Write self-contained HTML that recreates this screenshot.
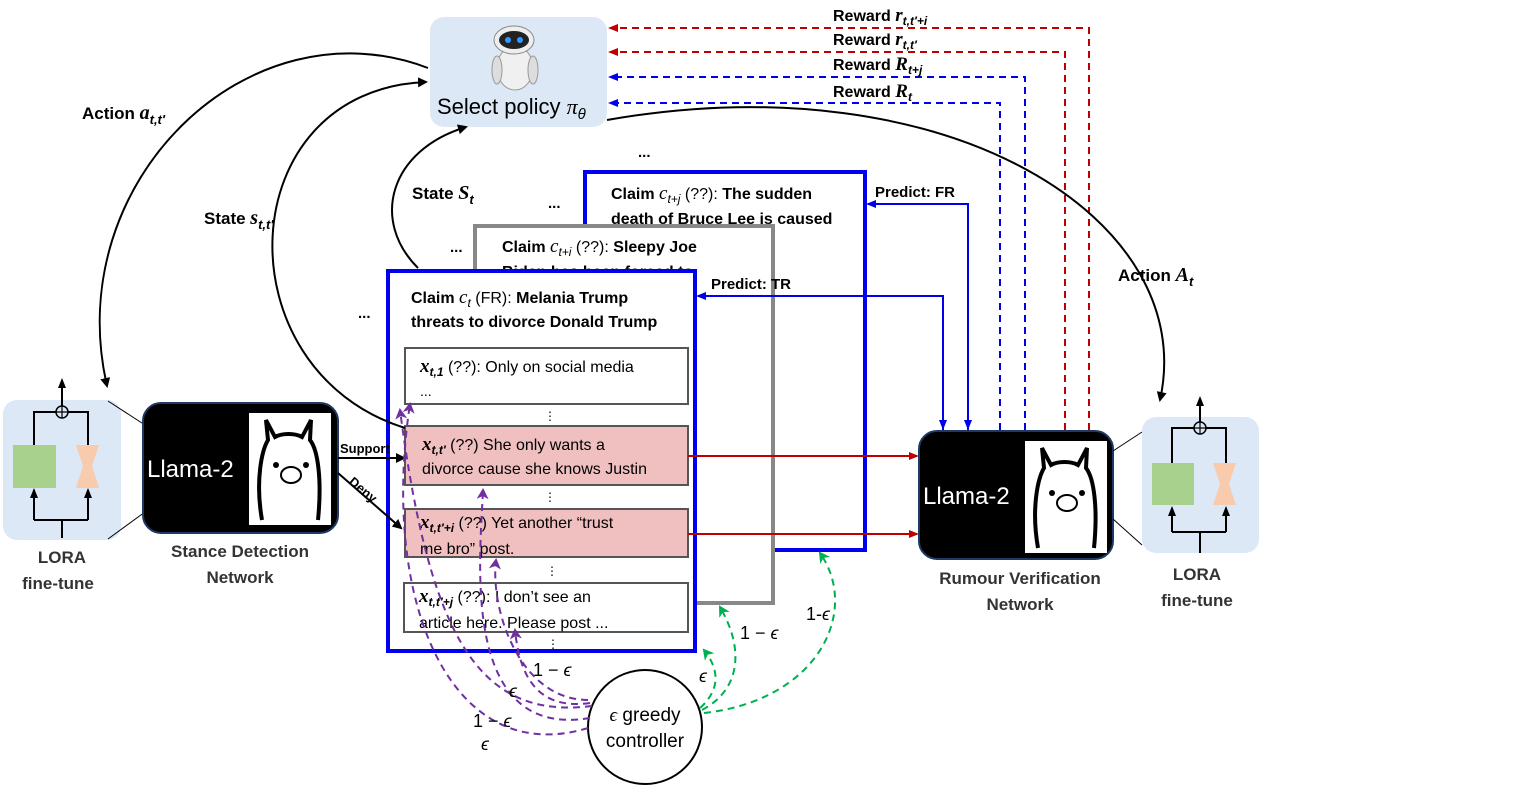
<!DOCTYPE html>
<html><head><meta charset="utf-8"><style>
html,body{margin:0;padding:0;background:#fff}
svg text{font-family:"Liberation Sans",sans-serif}
.b{font-weight:bold}
</style></head><body>
<svg width="1538" height="790" viewBox="0 0 1538 790" xmlns="http://www.w3.org/2000/svg">
<defs>
<marker id="ak" markerWidth="10" markerHeight="10" refX="8" refY="5" orient="auto" markerUnits="userSpaceOnUse"><path d="M0,0 L10,5 L0,10 z" fill="#000"/></marker>
<marker id="ar" markerWidth="10" markerHeight="10" refX="8" refY="5" orient="auto" markerUnits="userSpaceOnUse"><path d="M0,1 L10,5 L0,9 z" fill="#c00000"/></marker>
<marker id="ab" markerWidth="10" markerHeight="10" refX="8" refY="5" orient="auto" markerUnits="userSpaceOnUse"><path d="M0,1 L10,5 L0,9 z" fill="#0000ee"/></marker>
<marker id="ap" markerWidth="12" markerHeight="12" refX="9" refY="6" orient="auto" markerUnits="userSpaceOnUse"><path d="M0,0 L11,6 L0,12 L3,6 z" fill="#7030a0"/></marker>
<marker id="ag" markerWidth="12" markerHeight="12" refX="9" refY="6" orient="auto" markerUnits="userSpaceOnUse"><path d="M0,0 L11,6 L0,12 L3,6 z" fill="#00b050"/></marker>
</defs>

<rect x="430" y="17" width="177" height="110" rx="14" fill="#dce8f5"/>
<ellipse cx="515" cy="68" rx="18" ry="22" fill="#f0f0f0" stroke="#999"/>
<ellipse cx="514" cy="40" rx="20" ry="14" fill="#eee" stroke="#888"/>
<ellipse cx="514" cy="40" rx="15" ry="9" fill="#222"/>
<circle cx="508" cy="40" r="3" fill="#39f"/><circle cx="520" cy="40" r="3" fill="#39f"/>
<ellipse cx="497" cy="70" rx="5" ry="14" fill="#ddd" stroke="#999"/>
<ellipse cx="533" cy="70" rx="5" ry="14" fill="#ddd" stroke="#999"/>
<text x="437" y="114" font-size="22">Select policy <tspan font-style="italic" font-family="Liberation Serif">π</tspan><tspan font-size="15" dy="5" font-style="italic">θ</tspan></text>

<g fill="none" stroke-width="2" stroke-dasharray="7,5">
<path d="M1089,430 V28 H610" stroke="#c00000" marker-end="url(#ar)"/>
<path d="M1065,430 V52 H610" stroke="#c00000" marker-end="url(#ar)"/>
<path d="M1025,430 V77 H610" stroke="#0000ee" marker-end="url(#ab)"/>
<path d="M1000,430 V103 H610" stroke="#0000ee" marker-end="url(#ab)"/>
</g>
<g class="b" font-size="16">
<text x="833" y="21">Reward <tspan font-family="Liberation Serif" font-style="italic" font-size="19">r</tspan><tspan font-size="12" dy="4" font-style="italic">t,t′+i</tspan></text>
<text x="833" y="45">Reward <tspan font-family="Liberation Serif" font-style="italic" font-size="19">r</tspan><tspan font-size="12" dy="4" font-style="italic">t,t′</tspan></text>
<text x="833" y="70">Reward <tspan font-family="Liberation Serif" font-style="italic" font-size="19">R</tspan><tspan font-size="12" dy="4" font-style="italic">t+j</tspan></text>
<text x="833" y="97">Reward <tspan font-family="Liberation Serif" font-style="italic" font-size="19">R</tspan><tspan font-size="12" dy="4" font-style="italic">t</tspan></text>
</g>

<rect x="585" y="172" width="280" height="378" fill="#fff" stroke="#0000ee" stroke-width="4"/>
<text x="611" y="199" font-size="16"><tspan class="b">Claim </tspan><tspan font-family="Liberation Serif" font-style="italic" font-size="19">c</tspan><tspan font-size="12" dy="4" font-style="italic">t+j</tspan><tspan dy="-4"> (??): </tspan><tspan class="b">The sudden</tspan></text>
<text x="611" y="224" font-size="16" class="b">death of Bruce Lee is caused</text>
<rect x="475" y="226" width="298" height="377" fill="#fff" stroke="#888" stroke-width="4"/>
<text x="502" y="252" font-size="16"><tspan class="b">Claim </tspan><tspan font-family="Liberation Serif" font-style="italic" font-size="19">c</tspan><tspan font-size="12" dy="4" font-style="italic">t+i</tspan><tspan dy="-4"> (??): </tspan><tspan class="b">Sleepy Joe</tspan></text>
<text x="502" y="277" font-size="16" class="b">Biden has been forced to</text>
<rect x="388" y="271" width="307" height="380" fill="#fff" stroke="#0000ee" stroke-width="4"/>
<text x="411" y="303" font-size="16"><tspan class="b">Claim </tspan><tspan font-family="Liberation Serif" font-style="italic" font-size="19">c</tspan><tspan font-size="12" dy="4" font-style="italic">t</tspan><tspan dy="-4"> (FR): </tspan><tspan class="b">Melania Trump</tspan></text>
<text x="411" y="327" font-size="16" class="b">threats to divorce Donald Trump</text>

<rect x="405" y="348" width="283" height="56" fill="#fff" stroke="#555" stroke-width="2"/>
<text x="420" y="372" font-size="16"><tspan font-family="Liberation Serif" font-style="italic" font-weight="bold" font-size="19">x</tspan><tspan font-size="12" dy="4" font-style="italic" font-weight="bold">t,1</tspan><tspan dy="-4"> (??): Only on social media</tspan></text>
<text x="420" y="396" font-size="14">...</text>
<text x="544" y="420" font-size="12">⋮</text>
<rect x="405" y="426" width="283" height="59" fill="#f0c0c0" stroke="#555" stroke-width="2"/>
<text x="422" y="450" font-size="16"><tspan font-family="Liberation Serif" font-style="italic" font-weight="bold" font-size="19">x</tspan><tspan font-size="12" dy="4" font-style="italic" font-weight="bold">t,t′</tspan><tspan dy="-4"> (??) She only wants a</tspan></text>
<text x="422" y="474" font-size="16">divorce cause she knows Justin</text>
<text x="544" y="501" font-size="12">⋮</text>
<rect x="405" y="509" width="283" height="48" fill="#f0c0c0" stroke="#555" stroke-width="2"/>
<text x="420" y="528" font-size="16"><tspan font-family="Liberation Serif" font-style="italic" font-weight="bold" font-size="19">x</tspan><tspan font-size="12" dy="4" font-style="italic" font-weight="bold">t,t′+i</tspan><tspan dy="-4"> (??) Yet another “trust</tspan></text>
<text x="420" y="554" font-size="16">me bro” post.</text>
<text x="546" y="575" font-size="12">⋮</text>
<rect x="404" y="583" width="284" height="49" fill="#fff" stroke="#555" stroke-width="2"/>
<text x="419" y="602" font-size="16"><tspan font-family="Liberation Serif" font-style="italic" font-weight="bold" font-size="19">x</tspan><tspan font-size="12" dy="4" font-style="italic" font-weight="bold">t,t′+j</tspan><tspan dy="-4"> (??): I don’t see an</tspan></text>
<text x="419" y="628" font-size="16">article here. Please post  ...</text>
<text x="547" y="648" font-size="12">⋮</text>

<g font-size="15" class="b">
<text x="638" y="157">...</text><text x="548" y="208">...</text><text x="450" y="252">...</text><text x="358" y="318">...</text>
</g>

<path d="M968,430 V204 H868" fill="none" stroke="#0000ee" stroke-width="2" marker-end="url(#ab)"/>
<path d="M943,430 V296 H698" fill="none" stroke="#0000ee" stroke-width="2" marker-end="url(#ab)"/>
<path d="M968,204 V428" fill="none" stroke="#0000ee" stroke-width="2" marker-end="url(#ab)"/>
<path d="M943,296 V428" fill="none" stroke="#0000ee" stroke-width="2" marker-end="url(#ab)"/>
<text x="875" y="197" font-size="15" class="b">Predict: FR</text>
<text x="711" y="289" font-size="15" class="b">Predict: TR</text>

<path d="M688,456 H917" stroke="#c00000" stroke-width="2" marker-end="url(#ar)"/>
<path d="M688,534 H917" stroke="#c00000" stroke-width="2" marker-end="url(#ar)"/>

<rect x="3" y="400" width="118" height="140" rx="14" fill="#dce8f5"/>
<rect x="13" y="445" width="43" height="43" fill="#a9d18e"/>
<path d="M76,445 H99 L92,466 L99,488 H76 L83,466 Z" fill="#f8cbad"/>
<g stroke="#000" stroke-width="2" fill="none">
<path d="M62,538 V520 M34,520 H88 M34,520 V490 M88,520 V490"/>
<path d="M34,445 V412 H56 M88,445 V412 H68"/>
<circle cx="62" cy="412" r="6" stroke-width="1.5"/><path d="M56,412 H68 M62,406 V418" stroke-width="1.2"/>
<path d="M62,406 V384"/>
</g>
<path d="M30,498 L34,488 L38,498 Z M84,498 L88,488 L92,498 Z M58,388 L62,378 L66,388 Z" fill="#000"/>
<text x="62" y="563" font-size="17" class="b" text-anchor="middle" fill="#333">LORA</text>
<text x="58" y="589" font-size="17" class="b" text-anchor="middle" fill="#333">fine-tune</text>
<path d="M108,401 L145,425 M108,539 L145,512" stroke="#000" stroke-width="1"/>

<rect x="143" y="403" width="195" height="130" rx="18" fill="#000" stroke="#1f3864" stroke-width="2"/>
<text x="147" y="477" font-size="24" fill="#fff">Llama-2</text>
<rect x="249" y="413" width="82" height="112" fill="#fff"/>
<g fill="none" stroke="#000" stroke-width="4">
<path d="M262,520 C255,480 262,450 268,440 L266,420 L275,437 C282,433 295,433 302,437 L311,420 L310,440 C318,450 322,480 318,520"/>
</g>
<circle cx="276" cy="465" r="3" fill="#000"/><circle cx="306" cy="465" r="3" fill="#000"/>
<ellipse cx="291" cy="475" rx="10" ry="8" fill="none" stroke="#000" stroke-width="2"/>
<text x="240" y="557" font-size="17" class="b" text-anchor="middle" fill="#333">Stance Detection</text>
<text x="240" y="583" font-size="17" class="b" text-anchor="middle" fill="#333">Network</text>

<rect x="919" y="431" width="194" height="128" rx="18" fill="#000" stroke="#1f3864" stroke-width="2"/>
<text x="923" y="504" font-size="24" fill="#fff">Llama-2</text>
<rect x="1025" y="441" width="82" height="112" fill="#fff"/>
<g fill="none" stroke="#000" stroke-width="4">
<path d="M1038,548 C1031,508 1038,478 1044,468 L1042,448 L1051,465 C1058,461 1071,461 1078,465 L1087,448 L1086,468 C1094,478 1098,508 1094,548"/>
</g>
<circle cx="1052" cy="493" r="3" fill="#000"/><circle cx="1082" cy="493" r="3" fill="#000"/>
<ellipse cx="1067" cy="503" rx="10" ry="8" fill="none" stroke="#000" stroke-width="2"/>
<text x="1020" y="584" font-size="17" class="b" text-anchor="middle" fill="#333">Rumour Verification</text>
<text x="1020" y="610" font-size="17" class="b" text-anchor="middle" fill="#333">Network</text>
<path d="M1113,451 L1142,432 M1113,519 L1142,545" stroke="#000" stroke-width="1"/>
<rect x="1142" y="417" width="117" height="136" rx="14" fill="#dce8f5"/>
<rect x="1152" y="463" width="42" height="42" fill="#a9d18e"/>
<path d="M1213,463 H1236 L1229,484 L1236,505 H1213 L1220,484 Z" fill="#f8cbad"/>
<g stroke="#000" stroke-width="2" fill="none">
<path d="M1200,553 V532 M1172,532 H1226 M1172,532 V508 M1226,532 V508"/>
<path d="M1172,463 V428 H1194 M1226,463 V428 H1206"/>
<circle cx="1200" cy="428" r="6" stroke-width="1.5"/><path d="M1194,428 H1206 M1200,422 V434" stroke-width="1.2"/>
<path d="M1200,422 V402"/>
</g>
<path d="M1168,516 L1172,506 L1176,516 Z M1222,516 L1226,506 L1230,516 Z M1196,406 L1200,396 L1204,406 Z" fill="#000"/>
<text x="1197" y="580" font-size="17" class="b" text-anchor="middle" fill="#333">LORA</text>
<text x="1197" y="606" font-size="17" class="b" text-anchor="middle" fill="#333">fine-tune</text>

<path d="M338,458 H404" stroke="#000" stroke-width="2" marker-end="url(#ak)"/>
<path d="M338,473 L401,528" stroke="#000" stroke-width="2" marker-end="url(#ak)"/>
<text x="340" y="453" font-size="13" class="b">Support</text>
<text x="348" y="483" font-size="13" class="b" transform="rotate(40 348 483)">Deny</text>

<g fill="none" stroke="#000" stroke-width="2">
<path d="M428,68 C250,0 60,180 107,386" marker-end="url(#ak)"/>
<path d="M405,428 C220,370 230,90 426,82" marker-end="url(#ak)"/>
<path d="M418,268 C370,220 390,150 466,127" marker-end="url(#ak)"/>
<path d="M607,120 C950,60 1200,220 1160,400" marker-end="url(#ak)"/>
</g>
<g font-size="17" class="b">
<text x="82" y="119">Action <tspan font-family="Liberation Serif" font-style="italic" font-size="20">a</tspan><tspan font-size="13" dy="5" font-style="italic">t,t′</tspan></text>
<text x="204" y="224">State <tspan font-family="Liberation Serif" font-style="italic" font-size="20">s</tspan><tspan font-size="13" dy="5" font-style="italic">t,t′</tspan></text>
<text x="412" y="199">State <tspan font-family="Liberation Serif" font-style="italic" font-size="20">S</tspan><tspan font-size="13" dy="5" font-style="italic">t</tspan></text>
<text x="1118" y="281">Action <tspan font-family="Liberation Serif" font-style="italic" font-size="20">A</tspan><tspan font-size="13" dy="5" font-style="italic">t</tspan></text>
</g>

<circle cx="645" cy="727" r="57" fill="#fff" stroke="#000" stroke-width="2"/>
<text x="645" y="721" font-size="19" text-anchor="middle"><tspan font-family="Liberation Serif" font-style="italic">ϵ</tspan> greedy</text>
<text x="645" y="747" font-size="19" text-anchor="middle">controller</text>

<g fill="none" stroke="#7030a0" stroke-width="2" stroke-dasharray="7,5">
<path d="M592,706 C480,720 430,640 400,410" marker-end="url(#ap)"/>
<path d="M590,718 C460,740 480,560 483,490" marker-end="url(#ap)"/>
<path d="M588,728 C450,770 380,600 410,404" marker-end="url(#ap)"/>
<path d="M588,700 C520,700 490,610 496,560" marker-end="url(#ap)"/>
<path d="M590,703 C540,710 520,680 515,630" marker-end="url(#ap)"/>
</g>
<g fill="none" stroke="#00b050" stroke-width="2" stroke-dasharray="7,5">
<path d="M700,708 C720,690 720,670 704,650" marker-end="url(#ag)"/>
<path d="M702,710 C740,690 745,650 720,607" marker-end="url(#ag)"/>
<path d="M704,713 C820,700 860,610 820,553" marker-end="url(#ag)"/>
</g>
<g font-family="Liberation Serif" font-size="18">
<text x="533" y="676">1 − <tspan font-style="italic">ϵ</tspan></text>
<text x="509" y="697" font-style="italic">ϵ</text>
<text x="473" y="727">1 − <tspan font-style="italic">ϵ</tspan></text>
<text x="481" y="750" font-style="italic">ϵ</text>
<text x="699" y="682" font-style="italic">ϵ</text>
<text x="740" y="639">1 − <tspan font-style="italic">ϵ</tspan></text>
<text x="806" y="620">1-<tspan font-style="italic">ϵ</tspan></text>
</g>
</svg>
</body></html>
